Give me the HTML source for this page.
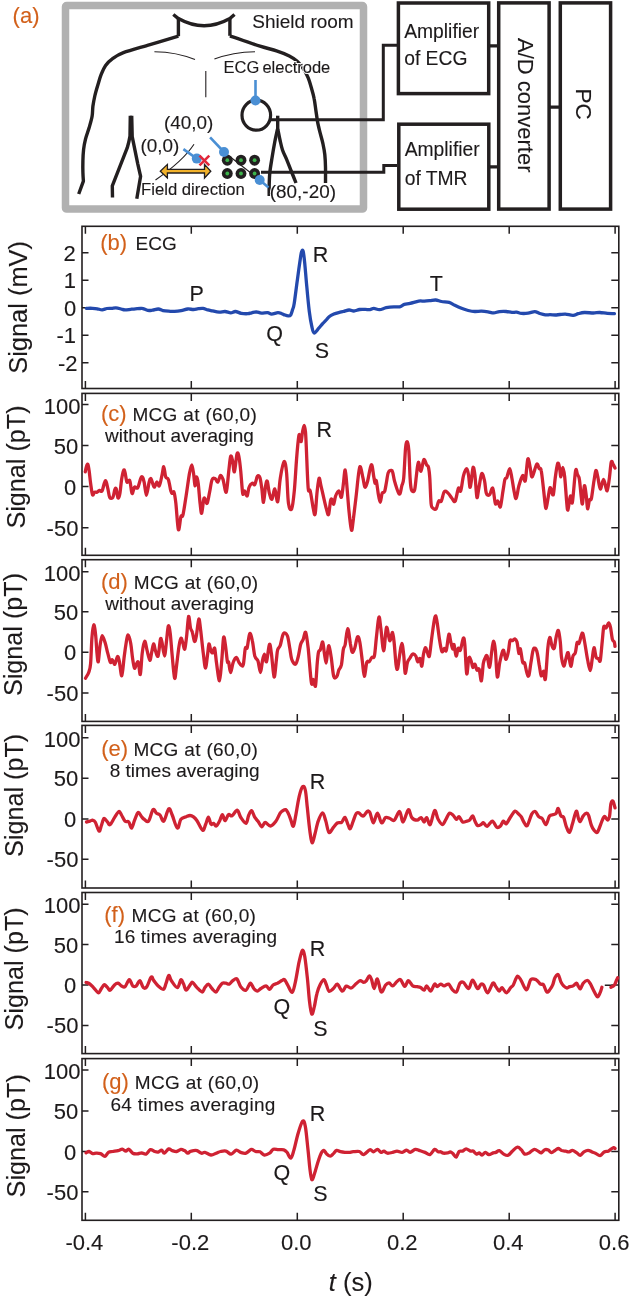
<!DOCTYPE html>
<html><head><meta charset="utf-8"><title>MCG figure</title>
<style>html,body{margin:0;padding:0;background:#fff;} svg{display:block;}</style>
</head><body>
<svg width="629" height="1300" viewBox="0 0 629 1300" font-family="'Liberation Sans', Arial, Helvetica, sans-serif">
<style>text{stroke-width:0.12px;paint-order:stroke;} .k{fill:#1c191a;stroke:#1c191a;} .o{fill:#d2601a;stroke:#d2601a;}</style>
<rect width="629" height="1300" fill="#fff"/>
<text x="12.6" y="22.5" font-size="22" class="o">(a)</text>
<rect x="65.5" y="5.5" width="298" height="203.6" rx="1.2" fill="none" stroke="#b1b1b1" stroke-width="7.5"/>
<text x="252.3" y="27.5" font-size="19" class="k">Shield room</text>

<g fill="none" stroke="#231f20" stroke-width="3.4" stroke-linejoin="round" stroke-linecap="butt">
<path d="M178.4,18.6 L178.4,36.2"/>
<path d="M178.4,36.2 C173.7,37.6 159.2,41.9 150.0,44.6 C140.8,47.4 129.7,50.3 123.4,52.7 C117.1,55.1 115.0,57.0 112.0,59.1 C109.0,61.2 107.4,62.9 105.6,65.4 C103.8,68.0 102.5,71.2 101.2,74.4 C99.9,77.6 99.1,80.9 98.0,84.5 C96.9,88.1 95.6,92.4 94.8,96.0 C94.0,99.6 93.4,102.8 92.9,106.2 C92.5,109.6 92.7,112.7 92.1,116.3 C91.5,119.9 90.2,124.0 89.1,127.8 C88.0,131.6 86.4,135.6 85.5,139.2 C84.6,142.8 84.0,145.8 83.6,149.4 C83.2,153.0 83.0,157.1 82.9,160.9 C82.8,164.7 82.8,168.9 82.9,172.3 C83.0,175.7 83.3,179.7 83.4,181.2 L78.7,194"/>
<path d="M229.9,18.6 L229.9,35.8"/>
<path d="M229.9,35.8 C234.9,37.5 252.2,43.7 260.0,46.2 C267.8,48.7 271.6,49.2 276.5,50.8 C281.4,52.4 285.9,54.2 289.3,55.9 C292.7,57.6 294.8,59.2 296.9,61.0 C299.0,62.8 300.6,64.9 302.0,66.7 C303.4,68.5 304.1,69.9 305.2,71.8 C306.2,73.7 307.2,75.5 308.3,78.2 C309.4,81.0 310.5,84.9 311.5,88.3 C312.5,91.7 313.4,94.7 314.1,98.5 C314.9,102.3 315.4,107.4 316.0,111.2 C316.6,115.0 316.9,118.0 317.5,121.4 C318.1,124.8 318.9,128.0 319.8,131.6 C320.7,135.2 322.0,139.3 322.8,143.1 C323.6,146.9 324.4,150.5 324.8,154.5 C325.2,158.5 325.4,162.4 325.5,167.2 C325.6,171.9 325.5,180.4 325.5,183.0"/>
<path d="M173.3,14.5 L178.4,18.6 Q204,33 229.9,18.6 L234.5,14.5"/>
<path d="M130.3,115.8 L130.0,136 Q129.2,141 127.3,147.7 L112.3,185.9 L112.5,197.5"/>
<path d="M131.7,115.8 L132.2,136.6 L137.7,163.6 L140.6,176.3 L136.8,198.8"/>
<path d="M277.7,115.7 L277.7,129.5"/>
<path d="M277.5,129.1 C277.1,131.2 275.7,137.0 274.8,141.8 C273.9,146.6 272.8,153.0 272.0,158.0 C271.2,163.0 270.4,167.5 269.9,172.0 C269.4,176.5 269.3,181.0 269.2,185.0 C269.1,189.0 269.2,194.2 269.2,196.0"/>
<path d="M277.8,129.1 C278.2,130.9 279.2,136.5 280.0,140.0 C280.8,143.5 281.4,146.7 282.5,150.0 C283.6,153.3 285.1,155.8 286.7,159.6 C288.2,163.3 290.2,168.6 291.8,172.5 C293.4,176.4 295.3,181.2 296.0,183.0"/>
</g>
<g fill="none" stroke="#231f20" stroke-width="1.1">
<path d="M154.4,51.7 Q177,52 195,59.6"/>
<path d="M214.4,59.1 Q233,52 255,51.7"/>
<path d="M205.8,71 L205.8,97.3"/>
<path d="M155.5,180 C170,170 185,158 194,144.3"/>
<path d="M218.5,146 L224,152 L256.9,177.7"/>
</g>

<ellipse cx="256.3" cy="115.2" rx="14.3" ry="15.0" fill="none" stroke="#231f20" stroke-width="3.2"/>
<path d="M270,119.8 L383.3,119.8 L383.3,45.3 L397,45.3" fill="none" stroke="#231f20" stroke-width="3"/>
<path d="M261,172.3 L383.8,172.3 L383.8,165.6 L397,165.6" fill="none" stroke="#231f20" stroke-width="3"/>
<text y="73.2" font-size="16.5" fill="#fff" stroke="#fff" style="stroke-width:2.2px"><tspan x="223.6">ECG</tspan><tspan x="262.4">electrode</tspan></text>
<text y="73.2" font-size="16.5" class="k"><tspan x="223.6">ECG</tspan><tspan x="262.4">electrode</tspan></text>
<circle cx="227.3" cy="160.2" r="5.45" fill="#231f20"/><circle cx="227.3" cy="160.2" r="1.9" fill="#3cb34a"/>
<circle cx="241.0" cy="160.2" r="5.45" fill="#231f20"/><circle cx="241.0" cy="160.2" r="1.9" fill="#3cb34a"/>
<circle cx="254.6" cy="160.2" r="5.45" fill="#231f20"/><circle cx="254.6" cy="160.2" r="1.9" fill="#3cb34a"/>
<circle cx="227.3" cy="173.5" r="5.45" fill="#231f20"/><circle cx="227.3" cy="173.5" r="1.9" fill="#3cb34a"/>
<circle cx="241.0" cy="173.5" r="5.45" fill="#231f20"/><circle cx="241.0" cy="173.5" r="1.9" fill="#3cb34a"/>
<circle cx="254.6" cy="173.5" r="5.45" fill="#231f20"/><circle cx="254.6" cy="173.5" r="1.9" fill="#3cb34a"/>
<path d="M160.3,171.2 L167.4,164.4 L167.4,169.4 L204.5,169.4 L204.5,164.4 L210.8,171.2 L204.5,178 L204.5,173 L167.4,173 L167.4,178 Z" fill="#f2b22b" stroke="#231f20" stroke-width="1.3" stroke-linejoin="miter"/>
<g stroke="#4a8fd4" stroke-width="2.6" fill="none"><path d="M255.5,80 L255.5,100"/><path d="M210.1,137.3 L224,152"/><path d="M183.4,149.1 L196.8,158.6"/><path d="M259.7,180 L268.5,187.5"/></g>
<g fill="#4a8fd4"><circle cx="255.5" cy="100.5" r="5"/><circle cx="224" cy="152" r="5"/><circle cx="196.8" cy="158.6" r="5"/><circle cx="259.7" cy="180" r="5"/></g>
<g stroke="#e2283b" stroke-width="2.6"><path d="M199.5,155.6 L209.3,165.4"/><path d="M209.3,155.6 L199.5,165.4"/></g>
<text x="164.0" y="129" font-size="18.9" class="k">(40,0)</text>
<text x="140.4" y="152.4" font-size="18.9" class="k">(0,0)</text>
<text x="141.0" y="195.2" font-size="16.7" class="k">Field direction</text>
<text x="269.8" y="198.2" font-size="18.9" fill="#fff" stroke="#fff" style="stroke-width:2px">(80,-20)</text>
<text x="269.8" y="198.2" font-size="18.9" class="k">(80,-20)</text>
<g fill="none" stroke="#231f20" stroke-width="3.5">
<rect x="398.4" y="3" width="90.3" height="90.6"/>
<rect x="398.8" y="124.2" width="90" height="85"/>
<rect x="498.7" y="2.9" width="50.4" height="206.2"/>
<rect x="560.3" y="2.9" width="50.3" height="206.2"/>
</g>
<path d="M488.7,45.8 L498.7,45.8 M488.8,166.8 L498.7,166.8 M549.1,107.1 L560.3,107.1" stroke="#231f20" stroke-width="3.2"/>
<text font-size="19.3" class="k"><tspan x="404.2" y="38.3">Amplifier</tspan><tspan x="404.2" y="65.3">of ECG</tspan></text>
<text font-size="19.3" class="k"><tspan x="404.7" y="155.5">Amplifier</tspan><tspan x="404.7" y="185">of TMR</tspan></text>
<text transform="translate(517.5,105.3) rotate(90)" font-size="22" class="k" text-anchor="middle">A/D converter</text>
<text transform="translate(575.6,104) rotate(90)" font-size="22.5" class="k" text-anchor="middle">PC</text>
<rect x="82.0" y="226.3" width="536.8" height="162.2" fill="none" stroke="#231f20" stroke-width="1.6"/>
<path d="M85.4,226.3 L85.4,233.8 M85.4,388.5 L85.4,381.0 M191.3,226.3 L191.3,233.8 M191.3,388.5 L191.3,381.0 M297.3,226.3 L297.3,233.8 M297.3,388.5 L297.3,381.0 M403.2,226.3 L403.2,233.8 M403.2,388.5 L403.2,381.0 M509.2,226.3 L509.2,233.8 M509.2,388.5 L509.2,381.0 M615.1,226.3 L615.1,233.8 M615.1,388.5 L615.1,381.0 M82.0,252.8 L88.5,252.8 M618.8,252.8 L611.3,252.8 M82.0,280.3 L88.5,280.3 M618.8,280.3 L611.3,280.3 M82.0,307.7 L88.5,307.7 M618.8,307.7 L611.3,307.7 M82.0,335.2 L88.5,335.2 M618.8,335.2 L611.3,335.2 M82.0,362.7 L88.5,362.7 M618.8,362.7 L611.3,362.7" stroke="#231f20" stroke-width="1.5" fill="none"/>
<text x="75.8" y="260.8" font-size="22" text-anchor="end" class="k">2</text>
<text x="76.0" y="288.3" font-size="22" text-anchor="end" class="k">1</text>
<text x="76.3" y="315.7" font-size="22" text-anchor="end" class="k">0</text>
<text x="76.0" y="343.2" font-size="22" text-anchor="end" class="k">-1</text>
<text x="77.6" y="370.7" font-size="22" text-anchor="end" class="k">-2</text>
<rect x="82.0" y="393.4" width="536.8" height="161.9" fill="none" stroke="#231f20" stroke-width="1.6"/>
<path d="M85.4,393.4 L85.4,400.9 M85.4,555.3 L85.4,547.8 M191.3,393.4 L191.3,400.9 M191.3,555.3 L191.3,547.8 M297.3,393.4 L297.3,400.9 M297.3,555.3 L297.3,547.8 M403.2,393.4 L403.2,400.9 M403.2,555.3 L403.2,547.8 M509.2,393.4 L509.2,400.9 M509.2,555.3 L509.2,547.8 M615.1,393.4 L615.1,400.9 M615.1,555.3 L615.1,547.8 M82.0,404.4 L88.5,404.4 M618.8,404.4 L611.3,404.4 M82.0,445.6 L88.5,445.6 M618.8,445.6 L611.3,445.6 M82.0,486.5 L88.5,486.5 M618.8,486.5 L611.3,486.5 M82.0,527.8 L88.5,527.8 M618.8,527.8 L611.3,527.8" stroke="#231f20" stroke-width="1.5" fill="none"/>
<text x="80.5" y="413.6" font-size="22" text-anchor="end" class="k">100</text>
<text x="78.2" y="453.6" font-size="22" text-anchor="end" class="k">50</text>
<text x="76.3" y="494.5" font-size="22" text-anchor="end" class="k">0</text>
<text x="78.4" y="535.8" font-size="22" text-anchor="end" class="k">-50</text>
<rect x="82.0" y="559.7" width="536.8" height="161.7" fill="none" stroke="#231f20" stroke-width="1.6"/>
<path d="M85.4,559.7 L85.4,567.2 M85.4,721.4 L85.4,713.9 M191.3,559.7 L191.3,567.2 M191.3,721.4 L191.3,713.9 M297.3,559.7 L297.3,567.2 M297.3,721.4 L297.3,713.9 M403.2,559.7 L403.2,567.2 M403.2,721.4 L403.2,713.9 M509.2,559.7 L509.2,567.2 M509.2,721.4 L509.2,713.9 M615.1,559.7 L615.1,567.2 M615.1,721.4 L615.1,713.9 M82.0,571.8 L88.5,571.8 M618.8,571.8 L611.3,571.8 M82.0,611.8 L88.5,611.8 M618.8,611.8 L611.3,611.8 M82.0,652.3 L88.5,652.3 M618.8,652.3 L611.3,652.3 M82.0,693.1 L88.5,693.1 M618.8,693.1 L611.3,693.1" stroke="#231f20" stroke-width="1.5" fill="none"/>
<text x="80.5" y="581.0" font-size="22" text-anchor="end" class="k">100</text>
<text x="78.2" y="619.8" font-size="22" text-anchor="end" class="k">50</text>
<text x="76.3" y="660.3" font-size="22" text-anchor="end" class="k">0</text>
<text x="78.4" y="701.1" font-size="22" text-anchor="end" class="k">-50</text>
<rect x="82.0" y="725.4" width="536.8" height="162.6" fill="none" stroke="#231f20" stroke-width="1.6"/>
<path d="M85.4,725.4 L85.4,732.9 M85.4,888.0 L85.4,880.5 M191.3,725.4 L191.3,732.9 M191.3,888.0 L191.3,880.5 M297.3,725.4 L297.3,732.9 M297.3,888.0 L297.3,880.5 M403.2,725.4 L403.2,732.9 M403.2,888.0 L403.2,880.5 M509.2,725.4 L509.2,732.9 M509.2,888.0 L509.2,880.5 M615.1,725.4 L615.1,732.9 M615.1,888.0 L615.1,880.5 M82.0,737.7 L88.5,737.7 M618.8,737.7 L611.3,737.7 M82.0,778.2 L88.5,778.2 M618.8,778.2 L611.3,778.2 M82.0,818.9 L88.5,818.9 M618.8,818.9 L611.3,818.9 M82.0,859.2 L88.5,859.2 M618.8,859.2 L611.3,859.2" stroke="#231f20" stroke-width="1.5" fill="none"/>
<text x="80.5" y="746.9" font-size="22" text-anchor="end" class="k">100</text>
<text x="78.2" y="786.2" font-size="22" text-anchor="end" class="k">50</text>
<text x="76.3" y="826.9" font-size="22" text-anchor="end" class="k">0</text>
<text x="78.4" y="867.2" font-size="22" text-anchor="end" class="k">-50</text>
<rect x="82.0" y="892.5" width="536.8" height="161.1" fill="none" stroke="#231f20" stroke-width="1.6"/>
<path d="M85.4,892.5 L85.4,900.0 M85.4,1053.6 L85.4,1046.1 M191.3,892.5 L191.3,900.0 M191.3,1053.6 L191.3,1046.1 M297.3,892.5 L297.3,900.0 M297.3,1053.6 L297.3,1046.1 M403.2,892.5 L403.2,900.0 M403.2,1053.6 L403.2,1046.1 M509.2,892.5 L509.2,900.0 M509.2,1053.6 L509.2,1046.1 M615.1,892.5 L615.1,900.0 M615.1,1053.6 L615.1,1046.1 M82.0,904.2 L88.5,904.2 M618.8,904.2 L611.3,904.2 M82.0,944.6 L88.5,944.6 M618.8,944.6 L611.3,944.6 M82.0,985.1 L88.5,985.1 M618.8,985.1 L611.3,985.1 M82.0,1025.4 L88.5,1025.4 M618.8,1025.4 L611.3,1025.4 M611.8,985.2 L604.8,985.2" stroke="#231f20" stroke-width="1.5" fill="none"/>
<text x="80.5" y="913.4" font-size="22" text-anchor="end" class="k">100</text>
<text x="78.2" y="952.6" font-size="22" text-anchor="end" class="k">50</text>
<text x="76.3" y="993.1" font-size="22" text-anchor="end" class="k">0</text>
<text x="78.4" y="1033.4" font-size="22" text-anchor="end" class="k">-50</text>
<rect x="82.0" y="1058.6" width="536.8" height="161.7" fill="none" stroke="#231f20" stroke-width="1.6"/>
<path d="M85.4,1058.6 L85.4,1066.1 M85.4,1220.3 L85.4,1212.8 M191.3,1058.6 L191.3,1066.1 M191.3,1220.3 L191.3,1212.8 M297.3,1058.6 L297.3,1066.1 M297.3,1220.3 L297.3,1212.8 M403.2,1058.6 L403.2,1066.1 M403.2,1220.3 L403.2,1212.8 M509.2,1058.6 L509.2,1066.1 M509.2,1220.3 L509.2,1212.8 M615.1,1058.6 L615.1,1066.1 M615.1,1220.3 L615.1,1212.8 M82.0,1070 L88.5,1070 M618.8,1070 L611.3,1070 M82.0,1111.1 L88.5,1111.1 M618.8,1111.1 L611.3,1111.1 M82.0,1151.5 L88.5,1151.5 M618.8,1151.5 L611.3,1151.5 M82.0,1191.8 L88.5,1191.8 M618.8,1191.8 L611.3,1191.8" stroke="#231f20" stroke-width="1.5" fill="none"/>
<text x="80.5" y="1079.2" font-size="22" text-anchor="end" class="k">100</text>
<text x="78.2" y="1119.1" font-size="22" text-anchor="end" class="k">50</text>
<text x="76.3" y="1159.5" font-size="22" text-anchor="end" class="k">0</text>
<text x="78.4" y="1199.8" font-size="22" text-anchor="end" class="k">-50</text>
<text transform="translate(26.5,307.4) rotate(-90)" font-size="25.4" text-anchor="middle" class="k">Signal (mV)</text>
<text transform="translate(25.1,467.0) rotate(-90)" font-size="25.2" text-anchor="middle" class="k">Signal (pT)</text>
<text transform="translate(21.5,634.5) rotate(-90)" font-size="25.2" text-anchor="middle" class="k">Signal (pT)</text>
<text transform="translate(22.7,795.4) rotate(-90)" font-size="25.2" text-anchor="middle" class="k">Signal (pT)</text>
<text transform="translate(22.7,968.9) rotate(-90)" font-size="25.2" text-anchor="middle" class="k">Signal (pT)</text>
<text transform="translate(24.6,1135.8) rotate(-90)" font-size="25.2" text-anchor="middle" class="k">Signal (pT)</text>
<text x="84.4" y="1250.3" font-size="22" text-anchor="middle" class="k">-0.4</text>
<text x="190.3" y="1250.3" font-size="22" text-anchor="middle" class="k">-0.2</text>
<text x="296.3" y="1250.3" font-size="22" text-anchor="middle" class="k">0.0</text>
<text x="402.2" y="1250.3" font-size="22" text-anchor="middle" class="k">0.2</text>
<text x="508.2" y="1250.3" font-size="22" text-anchor="middle" class="k">0.4</text>
<text x="614.1" y="1250.3" font-size="22" text-anchor="middle" class="k">0.6</text>
<text x="350.8" y="1291.3" font-size="25.5" text-anchor="middle" class="k"><tspan font-style="italic">t</tspan> (s)</text>
<text x="100.2" y="250.0" font-size="22" class="o">(b)</text><text x="135.5" y="250.3" font-size="19" class="k">ECG</text>
<text x="101.0" y="421.0" font-size="22" class="o">(c)</text>
<text x="132.4" y="421.0" font-size="19" letter-spacing="0.33" class="k">MCG at (60,0)</text>
<text x="105.0" y="442.0" font-size="19" letter-spacing="0" class="k">without averaging</text>
<text x="101.0" y="588.6" font-size="22" class="o">(d)</text>
<text x="133.8" y="588.6" font-size="19" letter-spacing="0.33" class="k">MCG at (60,0)</text>
<text x="105.2" y="610.2" font-size="19" letter-spacing="0" class="k">without averaging</text>
<text x="101.2" y="756.4" font-size="22" class="o">(e)</text>
<text x="133.4" y="756.4" font-size="19" letter-spacing="0.33" class="k">MCG at (60,0)</text>
<text x="109.7" y="777.4" font-size="19" letter-spacing="0" class="k">8 times averaging</text>
<text x="104.2" y="921.6" font-size="22" class="o">(f)</text>
<text x="131.60000000000002" y="921.6" font-size="19" letter-spacing="0.33" class="k">MCG at (60,0)</text>
<text x="114.0" y="943.4" font-size="19" letter-spacing="0.15" class="k">16 times averaging</text>
<text x="102.0" y="1089.3" font-size="22" class="o">(g)</text>
<text x="134.8" y="1089.3" font-size="19" letter-spacing="0.33" class="k">MCG at (60,0)</text>
<text x="110.5" y="1111.1" font-size="19" letter-spacing="0.25" class="k">64 times averaging</text>
<text x="189.5" y="300.8" font-size="21.5" class="k">P</text>
<text x="266.2" y="341.0" font-size="21.5" class="k">Q</text>
<text x="312.8" y="261.9" font-size="21.5" class="k">R</text>
<text x="314.8" y="358.2" font-size="21.5" class="k">S</text>
<text x="429.8" y="291.0" font-size="21.5" class="k">T</text>
<text x="316.5" y="437.2" font-size="21.5" class="k">R</text>
<text x="309.8" y="789.0" font-size="21.5" class="k">R</text>
<text x="273.6" y="1013.8" font-size="21.5" class="k">Q</text>
<text x="309.8" y="955.5" font-size="21.5" class="k">R</text>
<text x="313.2" y="1035.6" font-size="21.5" class="k">S</text>
<text x="273.6" y="1179.5" font-size="21.5" class="k">Q</text>
<text x="309.8" y="1120.8" font-size="21.5" class="k">R</text>
<text x="313.2" y="1200.6" font-size="21.5" class="k">S</text>
<path d="M86.3,308.3 C87.3,308.3 90.7,308.2 92.5,308.3 C94.3,308.4 95.7,308.5 97.3,308.8 C98.9,309.1 100.5,309.9 102.1,309.9 C103.7,309.8 105.3,308.8 106.9,308.5 C108.5,308.2 110.1,308.4 111.6,308.3 C113.1,308.2 114.3,307.7 115.9,307.8 C117.5,307.9 119.7,308.6 121.2,309.0 C122.7,309.4 123.4,309.8 125.0,309.9 C126.6,309.9 128.9,309.5 130.7,309.3 C132.4,309.1 133.9,308.9 135.5,308.8 C137.1,308.7 139.1,308.5 140.3,308.5 C141.6,308.5 141.8,308.3 143.0,308.6 C144.2,308.9 146.2,310.1 147.8,310.4 C149.4,310.7 150.8,310.4 152.5,310.2 C154.2,310.0 156.6,308.9 158.3,309.0 C160.1,309.1 161.2,310.2 163.0,310.6 C164.8,311.0 166.9,311.1 168.8,311.2 C170.7,311.3 172.4,311.5 174.5,311.4 C176.6,311.3 179.0,311.0 181.2,310.6 C183.4,310.2 185.7,309.2 187.8,309.0 C189.9,308.8 191.8,309.6 193.6,309.5 C195.3,309.4 196.7,308.9 198.3,308.7 C199.9,308.5 201.4,308.2 203.0,308.4 C204.6,308.6 206.2,309.5 207.8,309.9 C209.4,310.3 210.6,310.5 212.5,310.9 C214.4,311.3 217.1,312.0 219.2,312.1 C221.3,312.2 223.1,311.4 225.0,311.5 C226.9,311.6 229.0,312.8 230.7,312.8 C232.4,312.8 233.7,311.4 235.4,311.5 C237.2,311.6 239.1,312.9 241.2,313.3 C243.3,313.7 246.1,313.8 247.8,313.7 C249.6,313.6 250.3,313.1 251.7,312.8 C253.1,312.5 254.8,311.8 256.4,311.8 C258.0,311.9 259.5,313.0 261.4,313.1 C263.3,313.2 266.0,312.5 267.7,312.7 C269.4,312.9 269.9,314.1 271.6,314.1 C273.3,314.1 276.2,312.8 277.9,312.7 C279.6,312.6 280.6,313.3 281.8,313.7 C283.0,314.1 283.8,314.6 284.9,315.0 C285.9,315.4 287.1,315.9 288.1,315.9 C289.1,315.9 289.9,316.1 290.7,315.0 C291.4,313.9 292.0,311.5 292.6,309.6 C293.2,307.7 293.4,308.6 294.2,303.6 C295.0,298.6 296.3,287.4 297.4,279.7 C298.4,272.0 299.8,262.2 300.5,257.5 C301.2,252.8 301.2,252.4 301.7,251.4 C302.1,250.4 302.7,249.3 303.2,251.4 C303.7,253.5 304.2,257.8 304.8,263.8 C305.4,269.9 306.1,279.8 306.9,287.7 C307.6,295.6 308.5,305.1 309.3,311.5 C310.1,317.9 310.9,322.3 311.7,325.9 C312.5,329.5 312.9,332.6 314.1,333.0 C315.3,333.4 317.4,329.7 318.8,328.2 C320.2,326.7 321.2,325.3 322.4,323.9 C323.6,322.5 325.1,321.2 326.2,320.0 C327.3,318.8 327.8,317.7 329.1,316.7 C330.4,315.7 332.3,314.8 333.9,314.1 C335.5,313.4 337.0,313.0 338.6,312.6 C340.2,312.2 341.6,311.9 343.4,311.5 C345.1,311.1 347.4,310.1 349.1,310.0 C350.9,309.9 352.1,311.1 353.9,311.0 C355.6,310.9 357.7,309.8 359.6,309.5 C361.5,309.2 363.6,309.4 365.3,309.4 C367.0,309.4 368.6,309.8 370.0,309.6 C371.4,309.4 372.2,308.4 373.8,308.4 C375.4,308.4 377.4,309.8 379.5,309.7 C381.6,309.6 383.8,308.2 386.2,307.7 C388.6,307.2 391.7,306.9 393.9,306.8 C396.1,306.7 397.9,307.2 399.6,306.8 C401.4,306.4 402.6,305.0 404.4,304.4 C406.1,303.8 407.7,303.9 410.1,303.3 C412.5,302.8 416.3,301.5 418.7,301.1 C421.1,300.7 422.5,301.2 424.4,301.1 C426.3,301.0 428.1,300.8 430.0,300.6 C431.9,300.4 433.8,299.9 435.7,300.0 C437.6,300.1 439.3,301.1 441.5,301.5 C443.7,301.9 446.9,301.8 449.1,302.4 C451.3,303.0 452.7,304.3 454.8,305.3 C456.9,306.3 459.3,307.4 461.5,308.3 C463.7,309.2 466.0,310.0 468.2,310.5 C470.4,311.0 472.6,311.4 474.8,311.5 C477.0,311.6 479.3,311.1 481.5,311.2 C483.7,311.3 486.0,311.6 488.0,311.9 C490.0,312.2 491.8,312.9 493.7,312.9 C495.6,312.8 497.4,311.8 499.5,311.6 C501.6,311.4 504.0,311.4 506.1,311.5 C508.2,311.6 510.1,312.3 511.9,312.4 C513.6,312.5 515.0,312.0 516.6,312.2 C518.2,312.4 519.5,313.2 521.4,313.4 C523.3,313.6 525.9,313.5 528.1,313.2 C530.3,312.9 532.9,311.6 534.8,311.6 C536.7,311.6 537.8,312.9 539.5,313.4 C541.2,313.9 543.5,314.6 545.3,314.8 C547.0,315.0 548.3,314.7 550.0,314.7 C551.7,314.7 553.6,315.0 555.3,315.0 C557.0,315.0 558.3,314.6 560.0,314.5 C561.7,314.4 563.2,314.1 565.4,314.2 C567.6,314.3 571.0,315.4 573.1,315.3 C575.2,315.2 576.3,314.2 578.2,313.7 C580.1,313.2 582.0,312.6 584.5,312.5 C587.0,312.4 590.9,313.0 593.4,313.0 C595.9,313.0 597.5,312.4 599.8,312.5 C602.1,312.6 605.0,313.2 607.4,313.4 C609.8,313.6 613.2,313.6 614.4,313.7" fill="none" stroke="#2349ad" stroke-width="3.3" stroke-linejoin="round" stroke-linecap="round"/>
<path d="M85.3,471.8 C85.5,471.1 85.8,468.7 86.2,467.4 C86.6,466.1 87.3,463.7 87.8,464.2 C88.3,464.7 88.6,467.3 89.1,470.5 C89.6,473.7 90.0,479.3 90.6,483.3 C91.2,487.3 91.8,493.2 92.5,494.7 C93.2,496.2 93.8,492.6 94.5,492.2 C95.2,491.8 96.2,492.5 97.0,492.2 C97.8,491.9 98.7,490.5 99.5,490.3 C100.3,490.1 101.1,492.5 102.1,490.9 C103.1,489.3 104.3,481.1 105.3,480.7 C106.2,480.3 107.1,485.5 107.8,488.3 C108.5,491.1 108.8,495.8 109.7,497.3 C110.6,498.8 112.1,498.6 112.9,497.3 C113.8,496.0 114.2,491.0 114.8,489.6 C115.4,488.2 115.8,487.6 116.3,489.0 C116.8,490.4 117.4,497.2 118.0,497.9 C118.6,498.6 119.3,496.7 119.9,493.4 C120.5,490.1 121.1,482.1 121.8,478.2 C122.5,474.3 123.4,469.3 124.3,469.9 C125.2,470.5 126.0,480.2 126.9,482.0 C127.8,483.8 129.0,478.8 129.8,480.7 C130.7,482.6 131.2,492.3 132.0,493.4 C132.8,494.5 133.6,488.1 134.5,487.1 C135.4,486.2 136.5,489.4 137.7,487.7 C138.9,486.0 140.4,477.8 141.5,476.9 C142.6,475.9 143.3,478.9 144.1,482.0 C144.9,485.1 145.6,495.3 146.4,495.3 C147.2,495.3 148.4,484.8 149.2,482.0 C150.0,479.2 150.3,477.9 151.1,478.8 C151.9,479.7 153.2,486.6 154.2,487.1 C155.1,487.6 156.0,482.2 156.8,482.0 C157.7,481.8 158.5,486.9 159.3,485.8 C160.2,484.7 161.2,478.8 161.9,475.6 C162.7,472.4 163.2,466.5 163.8,466.7 C164.4,466.9 164.9,474.8 165.7,476.9 C166.4,479.0 167.5,477.1 168.3,479.4 C169.2,481.7 170.2,488.6 170.8,490.9 C171.4,493.2 171.6,493.2 172.1,493.4 C172.6,493.6 173.4,490.5 174.0,492.2 C174.6,493.9 175.2,497.4 175.9,503.6 C176.6,509.9 177.6,527.6 178.4,529.7 C179.2,531.8 180.2,518.7 181.0,516.3 C181.8,513.9 182.1,518.5 182.9,515.1 C183.8,511.7 185.0,502.8 186.1,496.0 C187.2,489.2 188.4,479.6 189.3,474.4 C190.2,469.2 191.1,464.8 191.8,464.8 C192.5,464.8 193.2,470.9 193.7,474.4 C194.2,477.9 194.6,485.4 195.0,485.8 C195.4,486.2 195.8,477.3 196.3,476.9 C196.8,476.5 197.6,478.9 198.2,483.3 C198.8,487.8 199.5,498.6 200.1,503.6 C200.7,508.6 201.1,514.1 201.7,513.2 C202.3,512.4 203.2,500.5 203.9,498.5 C204.6,496.5 205.2,500.4 205.8,501.1 C206.4,501.9 206.7,504.5 207.3,503.0 C207.9,501.5 208.8,496.1 209.6,492.2 C210.4,488.3 211.2,481.6 212.2,479.4 C213.1,477.2 214.4,478.4 215.3,478.8 C216.2,479.2 217.1,482.5 217.9,482.0 C218.8,481.5 219.6,476.0 220.4,475.6 C221.2,475.2 222.0,476.6 223.0,479.4 C224.0,482.2 225.2,493.5 226.2,492.2 C227.1,490.9 228.0,477.8 228.7,471.8 C229.4,465.9 230.0,458.4 230.6,456.5 C231.2,454.6 231.9,457.8 232.5,460.4 C233.1,462.9 233.7,472.9 234.4,471.8 C235.2,470.7 236.2,456.6 237.0,454.0 C237.8,451.4 238.3,453.5 238.9,456.5 C239.5,459.5 240.2,465.7 240.8,471.8 C241.4,477.9 242.1,490.2 242.7,493.4 C243.3,496.6 243.8,490.5 244.6,490.9 C245.3,491.3 246.4,496.6 247.2,496.0 C247.9,495.4 248.2,489.2 249.1,487.1 C249.9,485.0 251.4,483.7 252.3,483.3 C253.2,482.9 254.0,485.7 254.8,484.5 C255.7,483.3 256.5,477.5 257.4,476.3 C258.2,475.1 259.2,475.5 259.9,477.5 C260.6,479.5 261.2,484.2 261.8,488.3 C262.4,492.4 262.9,502.7 263.5,502.3 C264.1,501.9 265.0,489.3 265.6,485.8 C266.2,482.3 266.7,480.0 267.3,481.3 C267.9,482.6 268.6,490.4 269.4,493.4 C270.2,496.4 271.1,499.9 272.0,499.2 C272.9,498.4 273.9,488.5 274.9,488.9 C275.8,489.3 276.8,503.5 277.7,501.7 C278.6,499.9 279.2,484.9 280.3,478.2 C281.4,471.5 283.1,462.5 284.1,461.6 C285.2,460.8 285.9,466.1 286.6,473.1 C287.3,480.1 287.6,497.7 288.5,503.6 C289.4,509.5 290.7,510.8 291.7,508.7 C292.7,506.6 293.5,499.0 294.3,490.9 C295.1,482.8 295.8,469.1 296.5,460.0 C297.2,450.9 298.2,439.8 298.8,436.0 C299.4,432.2 299.6,436.6 300.0,437.5 C300.4,438.4 300.8,442.4 301.2,441.5 C301.6,440.6 302.0,434.7 302.5,432.0 C303.0,429.3 303.6,425.3 304.1,425.3 C304.6,425.3 305.1,427.6 305.5,432.0 C305.9,436.4 306.1,442.6 306.5,452.0 C306.9,461.4 307.6,481.8 308.2,488.3 C308.8,494.8 309.3,487.5 310.2,490.9 C311.1,494.3 312.5,504.9 313.3,508.7 C314.1,512.5 314.6,516.8 315.2,513.8 C315.8,510.8 316.5,496.8 317.2,490.9 C317.9,485.0 318.5,479.0 319.1,478.2 C319.7,477.4 320.1,482.2 321.0,485.8 C321.9,489.4 323.2,495.8 324.2,499.8 C325.1,503.8 326.0,507.6 326.7,510.0 C327.4,512.4 328.0,515.9 328.6,514.4 C329.2,512.9 330.0,503.6 330.5,501.1 C331.0,498.6 331.3,498.7 331.8,499.2 C332.3,499.7 333.1,504.7 333.7,504.2 C334.3,503.7 334.8,498.2 335.6,496.0 C336.5,493.8 337.8,490.7 338.8,490.9 C339.8,491.1 340.6,498.4 341.4,497.3 C342.1,496.2 342.7,489.1 343.3,484.5 C343.9,479.9 344.6,469.3 345.2,469.9 C345.8,470.5 346.5,481.4 347.1,488.3 C347.7,495.2 348.3,504.2 349.0,511.2 C349.7,518.2 350.8,529.0 351.5,530.3 C352.2,531.6 352.6,524.4 353.4,518.9 C354.1,513.4 355.1,504.7 356.0,497.3 C356.9,489.9 357.8,479.5 358.5,474.4 C359.2,469.3 359.6,466.1 360.4,466.7 C361.1,467.3 362.2,474.8 363.0,478.2 C363.8,481.6 364.2,486.5 364.9,487.1 C365.6,487.7 366.3,485.7 367.4,482.0 C368.5,478.3 370.2,465.7 371.3,464.8 C372.4,463.9 373.2,473.8 373.8,476.9 C374.4,480.0 374.7,482.7 375.1,483.3 C375.5,483.9 375.8,479.0 376.3,480.7 C376.8,482.4 377.6,489.8 378.2,493.4 C378.8,497.0 379.5,502.3 380.2,502.3 C380.9,502.3 381.4,495.2 382.1,493.4 C382.8,491.6 383.9,493.4 384.6,491.5 C385.3,489.6 385.9,485.2 386.5,482.0 C387.1,478.8 387.5,474.3 388.4,472.4 C389.2,470.5 390.9,470.4 391.6,470.5 C392.4,470.6 392.4,471.2 392.9,473.1 C393.4,475.0 393.7,478.5 394.8,482.0 C395.9,485.5 398.1,493.5 399.3,494.1 C400.5,494.7 401.1,488.5 401.8,485.8 C402.5,483.1 403.1,484.6 403.7,478.2 C404.3,471.8 405.0,453.7 405.6,447.6 C406.2,441.6 406.8,441.5 407.3,441.9 C407.8,442.3 408.3,444.1 408.8,450.2 C409.3,456.2 409.7,471.6 410.1,478.2 C410.5,484.8 410.7,487.6 411.4,489.6 C412.1,491.6 413.7,492.6 414.5,490.3 C415.3,488.0 415.8,480.3 416.4,475.6 C417.0,470.9 417.6,463.0 418.4,462.3 C419.1,461.6 420.0,471.6 420.9,471.2 C421.8,470.8 422.9,460.8 423.8,459.7 C424.8,458.6 425.8,463.5 426.6,464.8 C427.4,466.1 428.0,465.2 428.5,467.4 C429.0,469.6 429.4,472.2 429.8,478.2 C430.2,484.2 430.6,498.6 431.1,503.6 C431.6,508.6 432.1,507.2 433.0,508.1 C433.9,509.0 435.2,509.9 436.2,508.7 C437.1,507.5 437.8,502.4 438.7,501.1 C439.6,499.8 440.4,502.7 441.3,501.1 C442.2,499.5 443.2,492.8 444.4,491.5 C445.6,490.2 447.0,492.2 448.3,493.4 C449.6,494.6 451.0,497.2 452.1,498.5 C453.2,499.8 454.1,502.8 455.2,501.1 C456.2,499.4 457.5,490.0 458.4,488.3 C459.3,486.6 459.8,493.0 460.7,490.9 C461.6,488.8 462.5,479.3 463.5,475.6 C464.5,471.9 465.8,468.6 466.7,468.6 C467.6,468.6 468.1,472.5 468.6,475.6 C469.1,478.7 469.5,486.0 469.9,487.1 C470.3,488.2 470.7,485.3 471.2,482.0 C471.7,478.7 472.5,468.5 473.1,467.4 C473.7,466.3 474.4,470.6 475.0,475.6 C475.6,480.6 476.3,495.2 476.9,497.3 C477.5,499.4 478.0,492.2 478.8,488.3 C479.6,484.4 480.8,475.0 481.7,473.7 C482.6,472.4 483.7,477.4 484.5,480.7 C485.3,484.0 485.5,491.1 486.4,493.4 C487.2,495.7 488.5,495.5 489.6,494.7 C490.7,493.9 491.8,486.8 492.8,488.3 C493.8,489.8 494.5,501.5 495.4,503.6 C496.2,505.7 497.1,500.6 497.9,501.1 C498.7,501.6 499.5,508.5 500.4,506.8 C501.2,505.1 502.2,495.5 503.0,490.9 C503.8,486.3 504.3,481.6 504.9,479.4 C505.5,477.2 506.0,479.3 506.8,477.5 C507.6,475.7 508.9,468.5 509.7,468.6 C510.5,468.7 511.2,474.7 511.9,478.2 C512.6,481.7 513.1,486.2 513.8,489.6 C514.5,493.0 515.2,499.1 516.1,498.5 C517.0,497.9 517.8,489.6 518.9,485.8 C520.0,482.0 521.6,476.5 522.7,475.6 C523.8,474.8 524.4,483.4 525.3,480.7 C526.1,477.9 527.0,461.2 527.8,459.1 C528.6,457.0 529.6,465.0 530.3,468.0 C531.0,471.0 531.1,477.5 532.2,476.9 C533.3,476.3 535.5,465.6 536.7,464.2 C537.9,462.8 538.5,467.6 539.2,468.6 C540.0,469.7 540.5,466.8 541.2,470.5 C542.0,474.2 543.0,484.8 543.7,490.9 C544.4,497.0 545.1,505.1 545.6,507.4 C546.1,509.7 546.2,507.9 546.9,504.9 C547.5,501.9 548.9,492.4 549.5,489.6 C550.1,486.8 550.1,487.5 550.7,488.3 C551.3,489.1 552.5,496.4 553.3,494.7 C554.0,493.0 554.5,483.4 555.2,478.2 C555.9,473.0 557.0,465.2 557.7,463.5 C558.4,461.8 559.1,465.8 559.6,468.0 C560.1,470.2 560.4,477.0 560.9,476.9 C561.4,476.8 562.2,467.4 562.8,467.4 C563.4,467.4 564.1,471.3 564.7,476.9 C565.3,482.5 566.1,495.6 566.6,501.1 C567.1,506.6 567.3,510.9 567.9,510.0 C568.5,509.1 569.6,497.3 570.4,496.0 C571.1,494.7 571.5,506.4 572.4,502.3 C573.2,498.2 574.7,475.9 575.5,471.2 C576.3,466.5 576.8,473.0 577.4,474.4 C578.0,475.8 578.8,475.6 579.4,479.4 C580.0,483.2 580.8,493.3 581.3,497.3 C581.8,501.3 582.0,505.5 582.5,503.6 C583.0,501.7 583.8,487.1 584.4,485.8 C585.0,484.5 585.8,492.2 586.3,496.0 C586.8,499.8 587.1,508.1 587.6,508.7 C588.1,509.3 588.9,501.5 589.5,499.8 C590.1,498.1 590.6,501.7 591.4,498.5 C592.1,495.3 593.2,485.4 594.0,480.7 C594.8,476.0 595.3,471.1 595.9,470.5 C596.5,469.9 597.1,473.8 597.8,476.9 C598.5,480.0 599.3,488.6 600.3,489.0 C601.2,489.4 602.5,479.5 603.5,479.4 C604.5,479.3 605.5,486.5 606.1,488.3 C606.7,490.1 606.8,491.8 607.3,490.3 C607.8,488.8 608.6,484.1 609.2,479.4 C609.9,474.7 610.6,464.8 611.2,462.3 C611.9,459.8 612.5,463.2 613.1,464.2 C613.7,465.1 614.7,467.4 615.0,468.0" fill="none" stroke="#cf2233" stroke-width="3.3" stroke-linejoin="round" stroke-linecap="round"/>
<path d="M85.5,678.2 C86.0,677.2 87.9,674.9 88.7,672.5 C89.5,670.1 90.1,669.3 90.6,663.6 C91.1,657.9 91.4,644.7 91.9,638.2 C92.4,631.7 93.2,625.2 93.8,624.8 C94.4,624.4 95.2,630.8 95.7,635.6 C96.2,640.4 96.6,649.0 97.0,653.4 C97.4,657.8 97.8,663.2 98.3,661.7 C98.8,660.2 99.5,648.9 100.2,644.5 C100.9,640.1 101.5,635.8 102.3,635.6 C103.1,635.4 104.4,640.3 105.3,643.3 C106.2,646.3 106.9,650.2 107.8,653.4 C108.7,656.6 109.7,661.2 110.4,662.3 C111.2,663.4 111.6,659.5 112.3,659.8 C113.0,660.1 113.9,664.7 114.8,664.2 C115.7,663.7 116.7,657.1 117.4,656.6 C118.2,656.1 118.6,657.9 119.3,661.1 C120.0,664.3 121.0,676.6 121.8,675.7 C122.6,674.9 123.5,661.6 124.3,656.0 C125.0,650.4 125.7,645.5 126.3,642.0 C126.9,638.5 127.5,634.8 128.2,635.0 C128.9,635.2 130.0,639.4 130.7,643.3 C131.4,647.2 132.0,654.4 132.6,658.5 C133.2,662.6 133.9,667.1 134.5,668.1 C135.1,669.1 135.8,665.2 136.4,664.2 C137.0,663.2 137.7,660.6 138.3,662.3 C139.0,664.0 139.7,675.9 140.3,674.4 C141.0,672.9 141.5,658.9 142.2,653.4 C142.9,647.9 143.9,641.7 144.7,641.3 C145.5,640.9 146.3,647.7 147.2,650.9 C148.0,654.1 149.1,660.2 149.8,660.4 C150.6,660.6 151.1,655.0 151.7,652.2 C152.3,649.5 153.0,644.1 153.6,643.9 C154.2,643.7 154.8,648.9 155.5,650.9 C156.2,652.9 157.3,657.9 158.1,656.0 C158.9,654.1 159.8,641.7 160.4,639.4 C161.0,637.1 161.2,639.2 161.9,642.0 C162.6,644.8 163.8,656.0 164.5,656.0 C165.2,656.0 165.8,647.0 166.4,642.0 C167.0,637.0 167.7,627.6 168.3,626.1 C168.9,624.6 169.6,628.3 170.2,633.1 C170.8,637.9 171.4,647.2 172.1,654.7 C172.8,662.2 173.9,676.3 174.6,678.2 C175.3,680.1 175.8,671.6 176.5,666.2 C177.2,660.8 178.3,650.5 179.1,645.8 C179.8,641.1 180.4,638.6 181.0,638.2 C181.6,637.8 182.3,641.5 182.9,643.3 C183.5,645.1 184.2,650.3 184.8,649.0 C185.4,647.7 186.1,641.0 186.7,635.6 C187.3,630.2 188.0,617.8 188.6,616.5 C189.2,615.2 189.9,625.4 190.5,628.0 C191.1,630.6 191.8,630.2 192.4,632.4 C193.1,634.6 193.8,640.6 194.4,641.3 C195.1,641.9 195.6,640.0 196.3,636.3 C197.0,632.6 198.1,620.1 198.8,619.1 C199.5,618.1 199.9,624.8 200.7,630.5 C201.4,636.2 202.5,647.1 203.3,653.4 C204.1,659.7 204.8,668.1 205.5,668.1 C206.2,668.1 207.1,657.4 207.7,653.4 C208.3,649.4 208.5,644.3 209.0,643.9 C209.5,643.5 210.3,649.4 210.9,650.9 C211.5,652.4 212.2,653.2 212.8,652.8 C213.4,652.4 214.1,646.5 214.7,648.3 C215.3,650.1 215.8,658.2 216.6,663.6 C217.4,669.0 218.7,681.2 219.5,680.8 C220.3,680.4 221.0,668.3 221.7,661.1 C222.4,653.9 223.0,640.0 223.6,637.5 C224.2,635.0 224.9,641.8 225.5,645.8 C226.1,649.8 226.9,659.0 227.4,661.7 C227.9,664.5 228.2,660.5 228.7,662.3 C229.2,664.1 229.8,672.5 230.6,672.5 C231.3,672.5 232.2,664.8 233.2,662.3 C234.1,659.8 235.4,657.3 236.3,657.3 C237.2,657.3 238.0,660.9 238.9,662.3 C239.8,663.7 240.8,665.2 241.5,665.5 C242.2,665.8 242.8,667.1 243.4,664.2 C244.0,661.3 244.7,651.0 245.3,648.3 C245.9,645.5 246.5,650.1 247.2,647.7 C247.9,645.3 248.8,634.9 249.7,633.7 C250.5,632.5 251.5,637.0 252.3,640.7 C253.2,644.4 253.9,652.6 254.8,656.0 C255.8,659.4 257.1,658.4 258.0,661.1 C258.9,663.9 259.8,672.5 260.5,672.5 C261.2,672.5 261.8,664.2 262.4,661.1 C263.0,658.0 263.7,654.0 264.4,654.1 C265.1,654.2 265.7,663.3 266.5,661.7 C267.3,660.1 268.6,645.9 269.4,644.5 C270.2,643.1 270.6,648.0 271.4,653.4 C272.2,658.8 273.3,675.9 274.1,677.0 C274.9,678.1 275.8,664.4 276.4,659.8 C277.0,655.2 277.0,652.0 277.7,649.6 C278.4,647.2 279.4,647.9 280.3,645.2 C281.2,642.6 282.2,635.3 283.4,633.7 C284.6,632.1 286.2,633.2 287.3,635.6 C288.4,638.0 289.1,644.4 289.8,648.3 C290.5,652.2 290.8,656.6 291.7,659.2 C292.6,661.9 294.4,664.5 295.5,664.2 C296.6,663.9 297.2,660.6 298.1,657.3 C299.0,654.0 299.8,647.5 300.6,644.5 C301.5,641.5 302.4,641.4 303.2,639.4 C304.0,637.4 304.9,630.9 305.7,632.4 C306.5,633.9 307.2,639.9 308.2,648.3 C309.1,656.7 310.5,677.5 311.4,682.7 C312.2,687.9 312.6,679.0 313.3,679.5 C314.0,680.0 314.9,688.5 315.5,685.9 C316.1,683.2 316.7,669.2 317.2,663.6 C317.7,658.0 318.0,654.5 318.5,652.2 C319.0,649.9 319.7,651.3 320.4,649.6 C321.1,647.9 322.0,641.4 322.7,642.0 C323.4,642.6 323.8,649.9 324.4,653.4 C325.0,656.9 325.6,663.0 326.1,663.0 C326.6,663.0 326.9,656.3 327.4,653.4 C327.9,650.5 328.4,645.1 329.0,645.8 C329.6,646.4 330.4,652.2 331.2,657.3 C332.0,662.4 332.8,673.1 333.7,676.3 C334.6,679.5 336.0,677.3 336.9,676.3 C337.8,675.2 338.1,671.9 338.8,670.0 C339.6,668.1 340.6,668.3 341.4,664.9 C342.1,661.5 342.7,653.0 343.3,649.6 C343.9,646.2 344.5,648.0 345.2,644.5 C345.9,641.0 346.8,628.8 347.7,628.6 C348.6,628.4 349.6,639.4 350.3,643.3 C351.1,647.2 351.5,651.4 352.2,652.2 C352.9,653.0 353.8,650.8 354.7,648.3 C355.6,645.8 356.6,637.9 357.5,636.9 C358.4,635.9 359.0,638.0 359.8,642.0 C360.6,646.0 361.6,655.4 362.3,661.1 C363.1,666.8 363.6,676.1 364.3,676.3 C365.1,676.5 366.0,664.7 366.8,662.3 C367.6,659.9 368.5,662.5 369.3,661.7 C370.1,660.9 371.0,658.2 371.9,657.3 C372.8,656.3 373.7,659.2 374.4,656.0 C375.1,652.8 375.6,644.7 376.3,638.2 C377.1,631.7 378.1,618.9 378.9,617.2 C379.6,615.5 380.0,622.4 380.8,628.0 C381.6,633.6 382.8,651.0 383.7,650.9 C384.6,650.8 385.5,629.1 386.5,627.4 C387.5,625.7 388.7,639.9 389.7,640.7 C390.7,641.5 391.8,632.0 392.5,632.4 C393.2,632.8 393.6,637.9 394.2,643.3 C394.8,648.7 395.5,660.7 396.1,664.9 C396.7,669.1 397.0,670.4 397.6,668.7 C398.2,667.0 399.0,658.9 399.7,654.7 C400.4,650.5 401.1,643.3 401.8,643.3 C402.5,643.3 403.1,649.7 403.7,654.7 C404.3,659.7 404.6,671.9 405.2,673.2 C405.8,674.5 406.7,664.8 407.5,662.3 C408.3,659.8 409.2,659.3 410.1,657.9 C411.0,656.5 411.7,654.4 412.6,654.1 C413.6,653.8 415.0,654.7 415.8,656.0 C416.6,657.3 417.0,661.3 417.7,661.7 C418.4,662.1 419.3,657.8 420.0,658.5 C420.7,659.2 421.2,666.8 421.8,666.2 C422.4,665.6 422.8,657.8 423.4,654.7 C424.0,651.6 424.8,648.1 425.4,647.7 C426.0,647.3 426.6,650.8 427.3,652.2 C428.0,653.6 428.7,658.3 429.4,656.0 C430.1,653.7 430.8,644.7 431.7,638.2 C432.6,631.7 434.0,620.2 434.9,617.2 C435.8,614.2 436.1,616.9 436.8,620.4 C437.5,623.9 438.5,633.0 439.3,638.2 C440.1,643.4 441.0,649.8 441.9,651.5 C442.8,653.2 443.7,648.5 444.4,648.3 C445.1,648.1 445.6,652.6 446.3,650.3 C447.1,648.0 448.1,635.8 448.9,634.4 C449.6,633.0 450.2,639.6 450.8,642.0 C451.4,644.4 452.2,648.6 452.7,649.0 C453.2,649.4 453.4,643.3 454.0,644.5 C454.6,645.7 455.4,655.4 456.1,656.0 C456.8,656.6 457.5,649.2 458.2,648.3 C458.9,647.3 459.4,652.0 460.3,650.3 C461.2,648.6 462.6,639.2 463.3,638.2 C464.1,637.2 464.2,638.6 464.8,644.5 C465.4,650.4 466.0,671.6 466.7,673.8 C467.4,676.0 468.1,660.0 468.9,657.9 C469.6,655.8 470.5,659.5 471.2,661.1 C471.9,662.7 472.2,666.9 472.8,667.4 C473.4,667.9 474.3,663.8 475.0,664.2 C475.7,664.6 476.2,669.1 476.9,670.0 C477.6,670.9 478.4,667.5 479.2,669.3 C479.9,671.1 480.7,681.8 481.4,680.8 C482.1,679.8 482.7,667.4 483.3,663.6 C483.9,659.8 484.6,659.2 485.2,657.9 C485.8,656.6 486.4,654.4 487.1,656.0 C487.8,657.6 488.9,667.8 489.6,667.4 C490.3,667.0 490.9,657.8 491.5,653.4 C492.1,649.0 492.8,641.7 493.4,641.3 C494.0,640.9 494.8,644.9 495.4,650.9 C496.0,656.9 496.6,675.1 497.3,677.0 C498.0,678.9 498.9,666.8 499.8,662.3 C500.8,657.8 502.1,651.3 503.0,650.3 C503.9,649.2 504.4,654.5 504.9,656.0 C505.4,657.5 505.6,660.1 506.2,659.2 C506.8,658.4 507.9,654.0 508.5,650.9 C509.1,647.8 509.3,642.4 510.0,640.7 C510.7,639.0 511.7,641.0 512.5,640.7 C513.3,640.4 514.0,638.6 514.8,638.8 C515.5,639.0 516.3,639.6 517.0,642.0 C517.7,644.4 518.3,652.2 518.9,653.4 C519.5,654.6 519.8,647.5 520.4,649.0 C521.0,650.5 522.0,660.0 522.7,662.3 C523.4,664.6 523.9,661.3 524.6,663.0 C525.3,664.7 526.1,670.4 526.8,672.5 C527.5,674.6 528.1,677.4 528.8,675.7 C529.5,674.0 530.2,666.8 531.0,662.3 C531.8,657.8 532.5,650.9 533.5,649.0 C534.5,647.1 535.8,648.2 536.7,650.9 C537.7,653.5 538.5,660.8 539.2,664.9 C540.0,669.0 540.5,674.7 541.2,675.7 C542.0,676.8 543.0,670.7 543.7,671.2 C544.4,671.7 544.7,682.7 545.4,678.9 C546.1,675.1 547.1,655.2 547.8,648.3 C548.5,641.4 549.1,637.9 549.8,637.5 C550.5,637.1 551.3,644.0 552.0,645.8 C552.7,647.6 553.5,649.8 554.2,648.3 C554.9,646.8 555.5,639.9 556.2,636.9 C556.9,633.9 557.7,629.6 558.4,630.5 C559.1,631.4 559.8,637.5 560.3,642.0 C560.8,646.5 560.9,653.3 561.5,657.3 C562.1,661.3 563.0,666.0 563.8,666.2 C564.5,666.4 565.3,660.7 566.0,658.5 C566.7,656.3 567.4,651.5 568.2,652.8 C569.0,654.1 570.0,665.7 570.8,666.2 C571.6,666.7 572.2,658.2 573.0,656.0 C573.8,653.8 574.6,655.0 575.3,652.8 C576.0,650.6 576.5,644.2 577.1,642.6 C577.7,641.0 578.2,644.9 579.1,643.3 C580.0,641.7 581.3,633.5 582.2,633.1 C583.1,632.7 583.5,636.2 584.4,640.7 C585.3,645.2 586.6,654.8 587.6,659.8 C588.6,664.8 589.5,670.6 590.2,670.6 C591.0,670.6 591.5,663.6 592.1,659.8 C592.7,656.0 593.3,648.1 594.0,647.7 C594.7,647.3 595.4,655.5 596.1,657.3 C596.8,659.1 597.7,658.0 598.4,658.5 C599.1,659.0 599.6,663.4 600.3,660.4 C600.9,657.4 601.7,646.3 602.3,640.7 C602.9,635.1 603.2,628.8 603.8,626.7 C604.4,624.6 605.3,628.6 606.1,628.0 C606.9,627.4 607.9,623.0 608.6,622.9 C609.3,622.8 609.9,624.6 610.5,627.4 C611.1,630.1 611.8,637.0 612.4,639.4 C613.0,641.8 613.9,640.8 614.3,642.0 C614.7,643.2 614.9,645.7 615.0,646.4" fill="none" stroke="#cf2233" stroke-width="3.3" stroke-linejoin="round" stroke-linecap="round"/>
<path d="M86.5,822.0 C87.1,821.9 89.0,821.4 90.0,821.1 C91.0,820.8 91.7,820.1 92.6,820.2 C93.5,820.4 94.1,820.2 95.2,822.0 C96.3,823.8 98.1,830.5 99.1,831.1 C100.1,831.7 100.6,827.6 101.4,825.5 C102.2,823.4 103.0,819.1 104.0,818.5 C105.0,817.9 106.5,821.0 107.5,822.0 C108.5,823.0 108.9,825.3 110.1,824.6 C111.3,823.9 113.0,819.8 114.5,817.6 C116.0,815.4 117.7,811.9 118.9,811.5 C120.1,811.1 120.5,813.4 121.5,815.0 C122.5,816.6 123.8,819.9 125.0,821.1 C126.2,822.3 127.7,820.8 128.8,822.0 C129.9,823.2 130.6,828.4 131.6,828.1 C132.6,827.8 133.5,822.8 134.6,820.2 C135.7,817.6 136.9,813.0 138.1,812.4 C139.3,811.8 140.6,815.6 141.6,816.7 C142.6,817.9 143.0,818.6 144.2,819.3 C145.4,820.0 147.1,822.7 148.6,821.1 C150.1,819.5 151.7,811.0 153.0,809.7 C154.3,808.4 155.3,812.3 156.5,813.2 C157.7,814.1 158.8,813.7 160.0,815.0 C161.2,816.3 162.4,822.1 163.8,821.1 C165.2,820.1 167.3,809.9 168.7,808.9 C170.1,807.9 170.8,811.8 172.2,815.0 C173.6,818.2 175.9,827.4 177.4,828.1 C178.9,828.8 179.4,821.2 180.9,819.3 C182.4,817.4 184.7,817.3 186.2,816.7 C187.7,816.1 188.8,815.5 190.0,815.5 C191.2,815.5 192.3,816.0 193.5,816.9 C194.7,817.8 195.5,818.5 197.0,820.7 C198.5,822.9 201.2,829.7 202.6,830.3 C204.0,830.9 204.7,826.4 205.7,824.2 C206.7,822.0 207.5,817.2 208.4,817.2 C209.3,817.2 210.1,823.2 211.0,824.2 C211.9,825.2 212.7,823.0 213.6,823.3 C214.5,823.6 215.2,826.4 216.2,826.0 C217.2,825.6 218.7,822.6 219.7,820.7 C220.7,818.8 221.5,814.6 222.4,814.6 C223.3,814.6 224.0,820.7 225.0,820.7 C226.0,820.7 227.3,815.4 228.5,814.6 C229.7,813.8 230.6,816.5 232.0,815.8 C233.4,815.1 235.8,810.0 237.2,810.2 C238.6,810.4 239.2,815.0 240.7,817.2 C242.2,819.4 244.7,823.6 246.0,823.3 C247.3,823.0 247.7,817.6 248.6,815.5 C249.5,813.4 250.6,810.3 251.6,810.6 C252.6,810.9 253.6,815.4 254.7,817.2 C255.8,819.0 257.0,820.0 258.2,821.6 C259.4,823.2 260.5,826.6 261.7,826.8 C262.9,826.9 263.8,822.6 265.2,822.5 C266.6,822.4 268.6,826.1 270.4,826.0 C272.1,825.9 274.1,823.7 275.7,821.6 C277.3,819.5 278.9,815.2 280.0,813.4 C281.1,811.6 281.6,811.5 282.5,810.9 C283.4,810.3 284.7,809.2 285.7,809.6 C286.7,810.0 287.4,811.7 288.3,813.4 C289.2,815.1 290.0,817.7 290.8,819.8 C291.6,821.9 292.5,827.1 293.4,826.2 C294.2,825.4 294.9,819.6 295.9,814.7 C296.8,809.8 298.0,801.6 299.1,796.9 C300.2,792.2 301.6,787.8 302.6,786.7 C303.7,785.6 304.6,786.9 305.4,790.5 C306.2,794.1 306.6,801.5 307.4,808.3 C308.1,815.1 309.1,825.5 309.9,831.2 C310.7,836.9 311.2,842.3 312.1,842.7 C313.0,843.1 314.0,837.4 315.0,833.8 C316.0,830.2 316.9,824.6 318.2,821.1 C319.5,817.6 321.3,812.8 322.6,812.8 C323.9,812.8 324.7,817.8 325.8,821.1 C326.9,824.4 327.7,831.5 329.0,832.5 C330.3,833.5 332.0,829.0 333.4,827.4 C334.8,825.8 335.9,823.9 337.3,823.0 C338.7,822.1 340.4,823.2 341.7,822.3 C343.0,821.3 343.8,816.9 344.9,817.3 C346.0,817.7 347.2,823.0 348.1,824.9 C349.0,826.8 349.4,829.3 350.2,828.7 C351.0,828.1 352.2,823.7 353.2,821.1 C354.2,818.5 355.3,814.8 356.3,813.4 C357.3,812.0 358.2,812.7 359.0,813.0 C359.8,813.3 360.3,814.5 361.1,815.0 C361.9,815.5 362.7,816.5 363.7,815.9 C364.7,815.3 366.2,812.1 367.2,811.5 C368.2,810.9 368.9,810.5 369.9,812.4 C370.9,814.3 372.1,822.7 373.4,822.8 C374.6,822.9 376.0,813.2 377.4,813.2 C378.8,813.2 380.2,822.1 381.6,822.8 C383.0,823.5 384.2,818.3 385.6,817.6 C387.0,816.9 388.6,818.1 390.0,818.5 C391.4,818.9 392.7,821.4 394.3,820.2 C395.9,819.0 398.1,811.2 399.6,811.5 C401.1,811.8 401.7,822.3 403.1,822.0 C404.6,821.7 406.9,810.4 408.3,809.7 C409.8,809.0 410.3,815.9 411.8,817.6 C413.3,819.4 415.6,820.2 417.1,820.2 C418.7,820.2 419.9,817.3 421.1,817.6 C422.3,817.9 423.2,822.0 424.1,822.0 C425.0,822.0 425.7,817.2 426.7,817.6 C427.7,818.0 428.9,825.8 430.2,824.6 C431.5,823.4 433.3,811.5 434.6,810.6 C435.9,809.7 436.8,817.0 438.1,819.3 C439.4,821.6 441.1,824.6 442.4,824.6 C443.7,824.6 444.7,821.2 445.9,819.3 C447.1,817.4 448.2,813.9 449.4,813.2 C450.6,812.5 451.7,814.0 452.9,815.0 C454.1,816.0 455.4,819.0 456.4,819.3 C457.4,819.6 458.1,816.2 459.1,816.7 C460.1,817.2 461.3,821.3 462.6,822.0 C463.9,822.7 465.8,821.4 467.0,821.1 C468.2,820.8 468.7,821.1 469.6,820.2 C470.5,819.3 471.7,815.8 472.6,815.9 C473.5,816.0 474.1,819.5 474.9,821.1 C475.7,822.7 476.5,824.9 477.5,825.5 C478.5,826.1 480.0,825.1 481.0,824.6 C482.0,824.1 482.6,822.5 483.6,822.8 C484.6,823.1 485.6,826.6 487.1,826.3 C488.6,826.0 490.8,821.0 492.4,821.1 C494.0,821.2 495.4,826.3 496.7,827.2 C498.0,828.1 499.1,827.3 500.2,826.3 C501.3,825.3 502.4,821.5 503.4,821.1 C504.4,820.7 505.1,824.4 506.3,823.7 C507.5,823.0 509.2,818.8 510.7,816.7 C512.2,814.6 513.8,811.5 515.1,811.1 C516.4,810.7 517.6,813.2 518.6,814.1 C519.6,815.0 520.3,815.4 521.2,816.7 C522.1,818.0 522.8,820.5 523.8,822.0 C524.8,823.5 526.0,826.8 527.3,825.5 C528.6,824.2 530.4,816.4 531.7,814.1 C533.0,811.8 534.0,811.1 535.2,811.5 C536.4,811.9 537.5,815.5 538.7,816.7 C539.9,817.9 541.0,817.2 542.2,818.5 C543.4,819.8 544.8,825.0 546.0,824.6 C547.2,824.2 548.2,817.7 549.5,816.0 C550.8,814.3 552.4,815.1 553.5,814.6 C554.6,814.1 555.4,814.2 556.2,813.2 C557.0,812.2 557.4,808.0 558.2,808.5 C559.0,809.0 560.0,814.5 560.9,816.0 C561.8,817.5 562.7,815.5 563.6,817.3 C564.5,819.1 565.4,824.3 566.4,826.8 C567.4,829.3 568.5,832.8 569.5,832.4 C570.5,832.0 571.3,827.6 572.4,824.1 C573.5,820.6 575.2,812.1 576.2,811.2 C577.2,810.3 577.8,816.9 578.5,818.6 C579.2,820.3 579.5,821.8 580.3,821.4 C581.1,821.0 582.2,817.4 583.2,816.0 C584.2,814.6 585.7,813.3 586.6,813.2 C587.5,813.1 587.8,813.3 588.6,815.3 C589.4,817.3 590.5,822.9 591.4,825.4 C592.3,827.9 593.0,829.0 594.0,830.1 C595.0,831.2 596.3,833.2 597.4,832.2 C598.5,831.2 599.7,826.7 600.8,824.1 C601.9,821.5 603.1,817.3 604.2,816.6 C605.3,815.9 606.7,820.1 607.6,820.0 C608.5,819.9 609.1,818.7 609.6,816.0 C610.1,813.3 610.3,806.3 610.9,803.8 C611.5,801.3 612.3,800.4 613.0,801.1 C613.7,801.8 614.7,806.7 615.0,807.8" fill="none" stroke="#cf2233" stroke-width="3.3" stroke-linejoin="round" stroke-linecap="round"/>
<path d="M86.1,982.4 C86.8,982.7 88.8,983.2 90.0,984.1 C91.2,985.0 92.1,986.2 93.5,987.6 C94.9,989.0 97.1,992.6 98.4,992.8 C99.7,992.9 100.4,989.9 101.4,988.5 C102.4,987.1 103.3,984.8 104.3,984.6 C105.3,984.5 106.5,986.7 107.5,987.6 C108.5,988.5 108.9,990.6 110.1,990.2 C111.3,989.8 113.2,986.2 114.5,985.0 C115.8,983.8 116.8,983.1 118.0,983.2 C119.2,983.4 120.3,985.3 121.5,985.9 C122.7,986.5 123.7,987.7 125.0,986.7 C126.3,985.7 128.0,979.8 129.3,979.7 C130.6,979.6 131.6,984.9 132.8,985.9 C134.0,986.9 135.1,986.8 136.3,985.9 C137.5,985.0 138.6,980.3 139.8,980.6 C141.0,980.9 142.1,986.6 143.3,987.6 C144.5,988.6 145.5,988.5 146.8,986.7 C148.1,985.0 150.0,978.1 151.2,977.1 C152.4,976.1 152.6,979.1 153.8,980.6 C155.0,982.1 156.6,984.5 158.2,985.9 C159.8,987.3 162.1,989.8 163.4,989.3 C164.7,988.8 165.2,985.5 166.1,983.2 C167.0,980.9 167.8,975.8 168.7,975.4 C169.6,975.0 169.9,978.6 171.3,980.6 C172.8,982.6 175.8,987.8 177.4,987.6 C179.0,987.5 179.9,980.3 180.9,979.7 C181.9,979.1 182.7,982.4 183.6,984.1 C184.5,985.9 185.0,990.2 186.2,990.2 C187.4,990.2 189.5,985.4 190.6,984.1 C191.7,982.8 191.5,981.8 192.6,982.4 C193.7,983.0 195.4,986.0 197.0,987.6 C198.6,989.2 200.9,992.0 202.2,992.0 C203.5,992.0 203.9,988.9 204.9,987.6 C205.9,986.3 207.2,984.0 208.4,984.1 C209.6,984.2 210.7,987.2 211.9,988.5 C213.2,989.8 214.7,992.1 215.9,992.0 C217.1,991.9 217.8,989.1 218.9,987.6 C220.0,986.1 221.2,983.9 222.4,983.2 C223.6,982.5 224.8,983.1 225.9,983.2 C227.1,983.4 228.2,984.5 229.3,984.1 C230.5,983.7 231.5,981.5 232.8,980.6 C234.1,979.7 235.6,977.9 236.9,978.9 C238.2,979.9 239.2,984.8 240.7,986.7 C242.2,988.6 244.4,990.8 246.0,990.2 C247.6,989.6 249.0,983.5 250.3,983.2 C251.6,982.9 252.6,987.2 253.8,988.5 C255.0,989.8 256.1,991.1 257.3,991.1 C258.5,991.1 259.3,989.4 260.8,988.5 C262.3,987.6 264.6,985.8 266.1,985.9 C267.6,986.0 268.4,989.4 269.6,989.3 C270.8,989.1 271.8,986.0 273.1,985.0 C274.4,984.0 275.9,983.9 277.4,983.2 C278.8,982.5 280.6,981.2 281.8,980.6 C283.0,980.0 283.5,979.0 284.5,979.7 C285.5,980.4 286.3,982.7 287.6,984.8 C288.9,986.9 290.8,992.8 292.1,992.4 C293.4,992.0 294.1,987.4 295.3,982.3 C296.5,977.2 297.9,967.2 299.1,961.9 C300.3,956.6 301.4,951.2 302.3,950.4 C303.2,949.5 304.0,952.1 304.8,956.8 C305.6,961.5 306.6,971.0 307.4,978.4 C308.2,985.8 308.8,995.3 309.5,1001.3 C310.2,1007.2 311.0,1013.2 311.8,1014.1 C312.6,1015.0 313.5,1009.8 314.4,1006.4 C315.2,1003.0 315.9,997.3 316.9,993.7 C317.8,990.1 318.9,987.1 320.1,984.8 C321.3,982.5 322.8,979.7 323.9,979.7 C324.9,979.7 325.5,982.9 326.4,984.8 C327.2,986.7 327.8,990.6 329.0,991.2 C330.2,991.8 332.0,989.8 333.4,988.6 C334.8,987.4 335.8,983.8 337.3,984.2 C338.8,984.6 340.8,990.9 342.3,991.2 C343.8,991.5 344.7,986.6 346.2,986.1 C347.7,985.6 349.5,988.4 351.2,988.0 C352.9,987.6 354.8,984.7 356.3,983.5 C357.8,982.3 359.0,980.8 360.2,980.6 C361.4,980.4 362.7,982.4 363.7,982.4 C364.7,982.4 365.5,981.7 366.4,980.6 C367.3,979.5 368.4,976.0 369.3,975.9 C370.2,975.8 370.8,977.6 371.6,979.7 C372.4,981.8 373.2,988.6 374.2,988.5 C375.2,988.4 376.2,978.3 377.4,978.9 C378.6,979.5 379.8,991.0 381.2,992.0 C382.6,993.0 384.3,986.5 385.6,985.0 C386.9,983.5 387.9,982.8 389.1,982.9 C390.3,983.0 391.3,986.1 392.6,985.9 C393.9,985.7 395.7,982.5 397.0,981.5 C398.3,980.5 399.2,978.9 400.5,979.7 C401.8,980.5 403.5,986.2 404.8,986.4 C406.1,986.5 407.0,980.7 408.3,980.6 C409.6,980.5 411.2,984.9 412.7,985.9 C414.2,986.9 415.8,986.4 417.1,986.7 C418.4,987.0 419.4,987.0 420.6,987.6 C421.8,988.2 423.1,990.5 424.1,990.2 C425.1,989.9 425.6,985.8 426.7,985.9 C427.8,986.0 429.3,991.4 430.6,991.1 C431.9,990.8 433.5,984.8 434.6,984.1 C435.7,983.4 436.2,986.7 437.2,986.7 C438.2,986.7 439.5,984.2 440.7,984.1 C441.9,984.0 442.9,985.9 444.2,985.9 C445.5,985.9 447.3,983.5 448.6,984.1 C449.9,984.7 450.8,988.0 452.1,989.3 C453.4,990.6 455.1,993.0 456.4,992.0 C457.7,991.0 458.7,984.8 459.9,983.2 C461.1,981.6 462.0,981.5 463.5,982.4 C465.0,983.3 467.2,988.9 468.7,988.5 C470.2,988.1 471.1,980.1 472.6,980.1 C474.1,980.1 476.1,987.8 477.5,988.5 C478.9,989.2 480.0,984.7 481.0,984.1 C482.0,983.5 482.5,983.5 483.6,985.0 C484.7,986.5 486.1,993.1 487.6,992.8 C489.2,992.5 491.5,984.2 492.9,983.2 C494.3,982.2 494.8,985.4 495.9,986.7 C497.0,988.0 498.3,991.0 499.3,991.1 C500.3,991.2 500.8,987.3 502.0,987.6 C503.2,987.9 504.9,992.8 506.3,992.8 C507.8,992.8 509.5,988.9 510.7,987.6 C511.9,986.3 512.2,986.9 513.3,985.0 C514.4,983.1 516.1,976.9 517.4,976.2 C518.7,975.5 519.7,978.3 521.2,980.6 C522.7,982.9 524.9,990.0 526.5,989.9 C528.1,989.8 529.2,981.4 530.8,979.7 C532.4,978.0 534.5,979.0 536.1,979.7 C537.7,980.4 539.2,983.3 540.4,984.1 C541.6,984.9 542.3,983.3 543.4,984.6 C544.5,985.9 545.7,991.2 546.8,992.0 C547.9,992.8 549.1,990.5 550.1,989.3 C551.1,988.1 552.0,986.5 552.8,984.6 C553.6,982.7 554.0,979.5 554.9,977.8 C555.8,976.1 557.2,973.8 558.2,974.5 C559.2,975.2 560.0,980.0 560.9,981.9 C561.8,983.8 562.6,984.9 563.6,985.9 C564.6,986.9 566.0,987.9 567.0,988.0 C568.0,988.1 568.7,987.0 569.7,986.6 C570.7,986.2 572.0,986.5 573.1,985.9 C574.2,985.3 575.6,983.1 576.5,983.2 C577.4,983.3 577.8,985.7 578.5,986.6 C579.2,987.5 579.7,989.2 580.5,988.6 C581.3,988.0 582.1,984.6 583.2,983.2 C584.3,981.8 586.2,980.3 587.3,980.3 C588.4,980.3 589.0,981.6 590.0,983.2 C591.0,984.8 592.2,987.7 593.4,990.0 C594.6,992.3 596.3,996.3 597.4,996.8 C598.5,997.2 599.4,994.3 600.1,992.7 C600.9,991.1 601.6,988.2 601.9,987.3" fill="none" stroke="#cf2233" stroke-width="3.3" stroke-linejoin="round" stroke-linecap="round"/>
<path d="M610.9,987.3 C611.5,987.0 613.4,986.4 614.3,985.3 C615.2,984.2 615.8,981.8 616.4,980.5 C617.0,979.2 617.5,978.2 617.7,977.8" fill="none" stroke="#cf2233" stroke-width="3.3" stroke-linejoin="round" stroke-linecap="round"/>
<path d="M86.1,1152.9 C86.6,1152.7 88.0,1151.4 89.1,1151.5 C90.2,1151.6 91.4,1153.3 92.6,1153.6 C93.8,1153.9 94.8,1153.2 96.1,1153.2 C97.4,1153.2 99.0,1153.1 100.5,1153.6 C102.0,1154.1 103.6,1156.6 104.9,1156.4 C106.2,1156.2 107.1,1153.2 108.4,1152.4 C109.7,1151.6 111.1,1151.8 112.7,1151.5 C114.3,1151.2 116.4,1151.0 118.0,1150.6 C119.6,1150.2 121.0,1149.1 122.3,1149.2 C123.6,1149.3 124.7,1151.1 125.8,1151.1 C126.9,1151.1 127.6,1148.8 128.8,1149.2 C130.0,1149.6 131.4,1152.4 132.8,1153.2 C134.2,1154.0 135.7,1153.8 137.2,1153.8 C138.7,1153.8 140.1,1152.9 141.6,1152.9 C143.1,1153.0 144.6,1154.6 146.0,1154.1 C147.4,1153.6 148.9,1150.1 150.3,1149.7 C151.8,1149.3 153.4,1151.1 154.7,1151.5 C156.0,1151.9 157.0,1152.2 158.2,1152.0 C159.4,1151.8 160.7,1149.9 161.7,1150.1 C162.7,1150.3 163.1,1153.4 164.3,1153.2 C165.5,1153.0 167.4,1149.3 168.7,1148.9 C170.0,1148.5 170.9,1150.2 172.2,1150.6 C173.5,1151.0 175.1,1151.7 176.6,1151.5 C178.1,1151.3 179.6,1149.6 180.9,1149.4 C182.2,1149.2 183.2,1150.0 184.4,1150.6 C185.6,1151.2 187.0,1153.0 187.9,1153.2 C188.8,1153.4 189.1,1151.9 190.0,1151.5 C190.9,1151.1 192.3,1150.8 193.5,1150.6 C194.7,1150.4 195.7,1150.2 197.0,1150.6 C198.3,1151.0 200.1,1152.9 201.4,1153.2 C202.7,1153.5 203.3,1152.1 204.9,1152.4 C206.5,1152.7 209.1,1154.9 211.0,1155.0 C212.9,1155.1 214.6,1153.8 216.2,1153.2 C217.8,1152.6 219.0,1151.8 220.6,1151.5 C222.2,1151.2 224.2,1150.7 225.9,1151.1 C227.7,1151.5 229.4,1154.3 231.1,1154.1 C232.8,1153.9 234.7,1150.4 236.3,1150.1 C237.9,1149.8 239.1,1151.9 240.7,1152.4 C242.3,1152.9 244.2,1153.7 246.0,1153.2 C247.8,1152.7 249.6,1149.7 251.2,1149.4 C252.8,1149.1 254.1,1151.1 255.6,1151.5 C257.1,1151.9 258.6,1151.2 260.0,1151.8 C261.4,1152.4 262.7,1154.8 264.3,1155.0 C265.9,1155.2 268.1,1154.1 269.6,1153.2 C271.1,1152.3 271.7,1150.0 273.1,1149.4 C274.6,1148.8 276.5,1149.6 278.3,1149.7 C280.1,1149.8 282.4,1149.4 283.8,1149.8 C285.2,1150.2 285.8,1150.9 287.0,1152.3 C288.2,1153.7 289.6,1158.5 290.8,1158.1 C292.0,1157.7 292.8,1153.7 294.0,1149.8 C295.2,1145.9 296.4,1139.3 297.8,1134.5 C299.2,1129.7 301.3,1122.5 302.6,1121.2 C303.9,1119.9 304.5,1122.1 305.4,1126.9 C306.3,1131.7 307.2,1142.8 308.0,1149.8 C308.8,1156.8 309.3,1163.9 309.9,1168.9 C310.5,1173.9 311.1,1178.9 311.8,1179.7 C312.6,1180.5 313.3,1177.1 314.4,1174.0 C315.5,1170.9 317.0,1164.7 318.2,1161.2 C319.4,1157.7 320.4,1154.8 321.3,1153.0 C322.2,1151.2 323.0,1150.3 323.9,1150.4 C324.8,1150.5 325.3,1152.6 326.4,1153.6 C327.5,1154.6 329.1,1156.2 330.3,1156.2 C331.5,1156.2 332.3,1154.6 333.4,1153.6 C334.4,1152.6 335.4,1150.7 336.6,1150.4 C337.8,1150.1 339.0,1151.4 340.4,1151.7 C341.8,1152.0 343.4,1152.2 344.9,1152.3 C346.4,1152.4 347.9,1152.4 349.3,1152.3 C350.7,1152.2 351.5,1151.8 353.2,1151.7 C354.9,1151.6 357.6,1151.0 359.4,1151.5 C361.1,1152.0 361.9,1154.9 363.7,1154.6 C365.4,1154.3 368.3,1150.2 369.9,1149.7 C371.5,1149.2 372.1,1151.8 373.4,1151.8 C374.6,1151.8 376.1,1149.3 377.4,1149.4 C378.7,1149.5 380.1,1152.1 381.2,1152.4 C382.3,1152.7 382.9,1151.0 383.9,1151.1 C384.9,1151.2 385.9,1153.0 387.4,1153.2 C388.8,1153.4 391.0,1152.8 392.6,1152.4 C394.2,1152.1 395.4,1151.1 397.0,1151.1 C398.6,1151.1 400.6,1152.6 402.2,1152.4 C403.8,1152.2 405.3,1150.1 406.6,1150.1 C407.9,1150.1 408.7,1152.5 410.1,1152.4 C411.6,1152.3 413.7,1149.7 415.3,1149.4 C416.9,1149.1 418.1,1150.1 419.7,1150.6 C421.3,1151.1 423.3,1151.7 425.0,1152.4 C426.7,1153.1 428.3,1155.1 429.9,1154.6 C431.5,1154.1 433.2,1149.9 434.6,1149.4 C436.0,1148.9 437.1,1151.4 438.1,1151.8 C439.1,1152.2 439.8,1151.6 440.7,1151.8 C441.6,1152.0 442.1,1153.0 443.3,1153.2 C444.5,1153.4 446.5,1153.1 447.7,1152.9 C448.9,1152.7 449.4,1151.7 450.3,1151.8 C451.2,1151.9 451.9,1152.7 452.9,1153.6 C453.9,1154.5 455.1,1157.4 456.1,1157.1 C457.1,1156.8 458.0,1152.5 459.1,1151.5 C460.2,1150.5 461.4,1151.5 462.6,1151.1 C463.8,1150.7 464.8,1148.9 466.1,1148.9 C467.4,1148.9 469.3,1150.7 470.5,1151.1 C471.7,1151.5 472.1,1150.6 473.1,1151.1 C474.1,1151.6 475.6,1153.8 476.6,1154.1 C477.6,1154.4 478.3,1152.8 479.2,1152.9 C480.1,1153.1 480.9,1155.1 481.9,1155.0 C482.9,1154.9 484.2,1152.5 485.4,1152.4 C486.6,1152.3 487.6,1154.5 488.9,1154.6 C490.2,1154.7 492.0,1153.3 493.2,1152.9 C494.4,1152.5 494.9,1152.8 495.9,1152.4 C496.9,1152.0 498.0,1150.3 499.3,1150.6 C500.6,1150.9 502.2,1153.3 503.7,1154.1 C505.2,1154.9 506.6,1155.8 508.1,1155.3 C509.6,1154.8 510.9,1152.5 512.5,1151.1 C514.0,1149.7 515.9,1147.3 517.4,1147.1 C518.9,1146.9 520.0,1148.5 521.2,1149.7 C522.4,1150.9 523.4,1153.6 524.7,1154.1 C526.0,1154.6 527.5,1153.7 529.1,1152.9 C530.7,1152.1 532.7,1149.6 534.3,1149.4 C535.9,1149.2 537.5,1150.9 538.7,1151.5 C539.9,1152.1 540.3,1153.2 541.3,1152.9 C542.3,1152.6 543.6,1150.2 544.8,1149.7 C546.0,1149.2 547.2,1149.6 548.3,1150.1 C549.4,1150.6 550.4,1152.5 551.5,1152.6 C552.6,1152.7 553.8,1151.2 554.9,1150.5 C556.0,1149.8 557.1,1148.5 558.2,1148.5 C559.3,1148.5 560.4,1150.0 561.6,1150.5 C562.9,1151.0 564.5,1151.0 565.7,1151.2 C567.0,1151.4 568.0,1152.1 569.1,1151.9 C570.2,1151.8 571.2,1150.2 572.4,1150.3 C573.6,1150.4 575.2,1151.8 576.5,1152.6 C577.8,1153.4 579.1,1155.4 580.3,1155.3 C581.5,1155.2 582.6,1152.7 583.9,1151.9 C585.2,1151.1 586.6,1150.3 588.0,1150.3 C589.4,1150.3 590.8,1151.4 592.0,1151.9 C593.2,1152.4 594.0,1152.6 595.4,1153.2 C596.8,1153.8 598.6,1155.9 600.1,1155.7 C601.6,1155.5 602.9,1152.7 604.2,1151.9 C605.6,1151.2 607.1,1151.7 608.2,1151.2 C609.3,1150.8 610.0,1149.8 610.9,1149.2 C611.8,1148.6 612.9,1147.7 613.6,1147.6 C614.3,1147.5 614.8,1148.3 615.0,1148.5" fill="none" stroke="#cf2233" stroke-width="3.3" stroke-linejoin="round" stroke-linecap="round"/>
</svg>
</body></html>
